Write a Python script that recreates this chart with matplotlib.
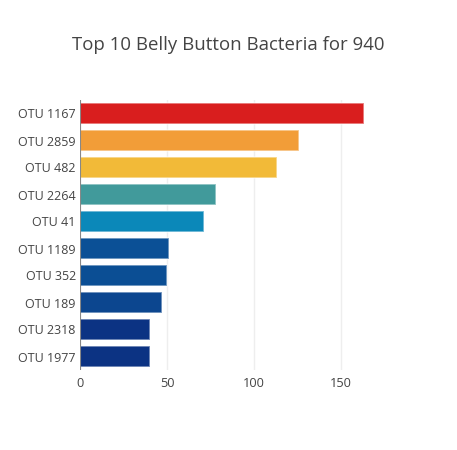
import numpy as np
import matplotlib
matplotlib.use("Agg")
import matplotlib.pyplot as plt
from matplotlib.colors import LinearSegmentedColormap, Normalize

otu_labels = ["OTU 1167", "OTU 2859", "OTU 482", "OTU 2264", "OTU 41",
              "OTU 1189", "OTU 352", "OTU 189", "OTU 2318", "OTU 1977"]
sample_values = [163, 126, 113, 78, 71, 51, 50, 47, 40, 40]
x_ticks = [0, 50, 100, 150]

# plotly "Portland" colorscale
portland = LinearSegmentedColormap.from_list(
    "portland",
    [(0.0, "#0c3383"), (0.25, "#0a88ba"), (0.5, "#f2d338"),
     (0.75, "#f28f38"), (1.0, "#d91e1e")])
norm = Normalize(vmin=min(sample_values), vmax=max(sample_values))

plt.rcParams['font.family'] = ['Open Sans', 'DejaVu Sans']
txt = "#444444"

fig = plt.figure(figsize=(4.57, 4.5), dpi=100)
ax = fig.add_axes([80 / 457, 80 / 450, 297 / 457, 270 / 450])

ypos = np.arange(len(otu_labels))[::-1]
ax.barh(ypos, sample_values, height=0.8,
        color=[portland(norm(v)) for v in sample_values],
        edgecolor=(1, 1, 1, 0.5), linewidth=1.2, zorder=3)

ax.set_yticks(ypos)
ax.set_yticklabels(otu_labels, fontsize=9.0, color=txt)
ax.set_ylim(-0.5, len(otu_labels) - 0.5)
ax.set_xlim(0, max(sample_values) * 1.047)
ax.set_xticks(x_ticks)
ax.set_xticklabels([str(t) for t in x_ticks], fontsize=9.2, color=txt)
ax.tick_params(length=0, pad=3)
ax.tick_params(axis='x', pad=5)

ax.grid(axis='x', color="#eeeeee", linewidth=1, zorder=0)
for s in ax.spines.values():
    s.set_visible(False)
ax.axvline(0, color="#888888", linewidth=1.5, zorder=4)

fig.text(0.5, 1 - 45 / 450, "Top 10 Belly Button Bacteria for 940",
         ha='center', va='center', fontsize=13.4, color=txt)

fig.savefig("out.png", dpi=100, facecolor="white")
